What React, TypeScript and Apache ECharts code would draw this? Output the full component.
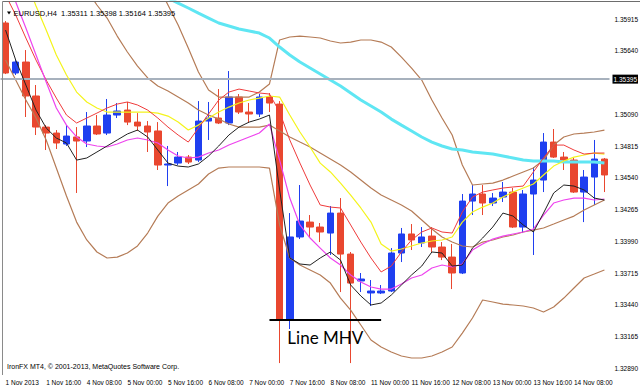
import React, { useEffect, useRef } from 'react';
import * as echarts from 'echarts';

// ---- categories (H4 bars) ----
const days = ['1 Nov', '4 Nov', '5 Nov', '6 Nov', '7 Nov', '8 Nov', '11 Nov', '12 Nov', '13 Nov', '14 Nov'];
const hours = ['00:00', '04:00', '08:00', '12:00', '16:00', '20:00'];
const categories = days.flatMap((d) => hours.map((h) => `${d} ${h}`));
const firstLabel = '1 Nov 2013';

// ---- price scale ticks ----
const yTicks = [1.3289, 1.33165, 1.3344, 1.33715, 1.3399, 1.34265, 1.3454, 1.34815, 1.3509, 1.3564, 1.35915];
const yMin = 1.32824;
const yMax = 1.36063;

// ---- candles ----
const opens = [1.35881,1.35448,1.35543,1.35249,1.3498,1.34928,1.34833,1.34894,1.34859,1.34989,
1.34928,1.35084,1.35127,1.35023,1.34989,1.34946,1.34651,1.34668,1.3472,1.34694,
1.35032,1.35058,1.35015,1.3524,1.3511,1.35093,1.3524,1.35179,1.33309,1.34028,
1.34157,1.34114,1.34062,1.34235,1.3388,1.33647,1.33543,1.33543,1.3356,1.33889,
1.34054,1.33976,1.34036,1.33941,1.33854,1.33716,1.34339,1.344,1.34322,1.34374,
1.34417,1.34114,1.344,1.34521,1.3485,1.3472,1.34694,1.34417,1.34547,1.34703];
const closes = [1.35448,1.35543,1.35249,1.3498,1.34928,1.34842,1.34902,1.34859,1.34989,1.3492,
1.35084,1.35119,1.35023,1.34989,1.34937,1.34651,1.3466,1.3472,1.34677,1.35032,
1.35058,1.35015,1.3524,1.3511,1.35093,1.3524,1.35188,1.33309,1.34028,1.34166,
1.34114,1.34071,1.34235,1.3388,1.33629,1.33664,1.3356,1.3356,1.33889,1.34054,
1.34002,1.34028,1.33941,1.33854,1.33716,1.34339,1.344,1.34322,1.34365,1.34417,
1.34114,1.344,1.34521,1.3485,1.3472,1.34694,1.34417,1.34547,1.34703,1.34565];
const lows = [1.35439,1.35431,1.35067,1.34911,1.34781,1.3479,1.34816,1.34409,1.34807,1.34911,
1.34911,1.35058,1.34997,1.34946,1.34764,1.34608,1.34469,1.34651,1.3466,1.34677,
1.34868,1.35006,1.34997,1.35093,1.35015,1.35067,1.3511,1.32936,1.33231,1.3401,
1.34028,1.33984,1.33872,1.33551,1.32936,1.33551,1.3343,1.33534,1.33551,1.33811,
1.33915,1.33941,1.33898,1.33828,1.33577,1.33707,1.34218,1.34218,1.34296,1.34331,
1.34106,1.34062,1.33872,1.34417,1.34712,1.34608,1.34409,1.34157,1.34305,1.34417];
const highs = [1.35898,1.3556,1.35647,1.35344,1.34997,1.34954,1.34997,1.3498,1.3511,1.35084,
1.35223,1.35188,1.35197,1.35101,1.35032,1.35023,1.34816,1.34764,1.34738,1.35205,
1.35197,1.35309,1.35465,1.35266,1.35188,1.35266,1.35275,1.35205,1.34235,1.34478,
1.34218,1.34149,1.34296,1.34365,1.33898,1.33716,1.33655,1.33612,1.33932,1.34106,
1.3414,1.34114,1.34114,1.33984,1.33967,1.344,1.34478,1.34478,1.34409,1.34504,
1.34452,1.34435,1.34634,1.34928,1.34963,1.34764,1.34712,1.34608,1.34868,1.34712];

// ---- indicators ----
const maBlack = [1.3582,1.3556,1.35344,1.35127,1.34972,1.34885,1.34842,1.34694,1.34712,1.34764,
1.34816,1.34868,1.3492,1.34954,1.34894,1.34781,1.34668,1.34642,1.34634,1.3466,
1.34729,1.34816,1.34911,1.3498,1.35023,1.35049,1.35084,1.34435,1.33846,1.33794,
1.33785,1.33846,1.33898,1.33828,1.33612,1.33517,1.33439,1.33456,1.33525,1.33612,
1.33699,1.33776,1.33898,1.33889,1.33776,1.33785,1.33932,1.34019,1.34114,1.34235,
1.34209,1.34132,1.34071,1.34235,1.34409,1.34478,1.34469,1.34435,1.34365,1.34348];
const maMagenta = [1.36253,1.36063,1.35838,1.35604,1.3537,1.35145,1.34997,1.34894,1.34833,1.34816,
1.34807,1.34833,1.34868,1.34885,1.34868,1.34842,1.34781,1.34729,1.34712,1.3472,
1.34755,1.34781,1.34824,1.34859,1.34894,1.34928,1.35006,1.34694,1.34365,1.34132,
1.34019,1.33932,1.33846,1.33785,1.33699,1.33638,1.33595,1.33577,1.33577,1.33621,
1.33673,1.33699,1.33759,1.33785,1.33768,1.33794,1.33915,1.33967,1.3401,1.34036,
1.34054,1.34071,1.34097,1.34218,1.34322,1.34348,1.34365,1.34365,1.34348,1.34357];
const maRed = [1.36123,1.3595,1.35751,1.3556,1.35387,1.35231,1.35084,1.35015,1.35058,1.35101,
1.35145,1.35179,1.35197,1.35171,1.35127,1.35058,1.3498,1.34911,1.3485,1.34972,
1.35093,1.35214,1.35283,1.35309,1.35292,1.35275,1.35266,1.3511,1.34868,1.34668,
1.34478,1.34305,1.34287,1.34279,1.34132,1.33984,1.33846,1.33725,1.33776,1.33898,
1.34002,1.34071,1.34106,1.34071,1.34062,1.34244,1.34374,1.34417,1.34435,1.34452,
1.34461,1.34469,1.34591,1.34712,1.34824,1.34824,1.34781,1.34746,1.34755,1.34755];
const maYellow = [1.36686,1.3647,1.36253,1.36028,1.3582,1.35604,1.35431,1.35283,1.35197,1.35145,
1.3511,1.3511,1.3511,1.3511,1.3511,1.35101,1.35075,1.35023,1.34954,1.34997,
1.35058,1.3511,1.35153,1.35188,1.35214,1.35231,1.35249,1.3524,1.35084,1.34937,
1.34807,1.34668,1.34591,1.34495,1.34391,1.34279,1.34157,1.33967,1.33906,1.33924,
1.3395,1.33976,1.33993,1.34002,1.34028,1.34157,1.34244,1.34287,1.34322,1.34374,
1.34417,1.34452,1.34487,1.34565,1.34642,1.34686,1.3472,1.34738,1.34755,1.34746];
const maCyan = [null,null,null,null,null,null,null,null,null,null,
null,null,null,null,null,null,1.36097,1.36054,1.36011,1.35967,
1.35924,1.35881,1.35855,1.35829,1.35812,1.35794,1.35751,1.35673,1.35604,1.35543,
1.35491,1.35439,1.35387,1.35335,1.35275,1.35214,1.35162,1.3511,1.35049,1.34997,
1.34946,1.34894,1.3485,1.34816,1.3479,1.34781,1.34764,1.34755,1.34746,1.34729,
1.34712,1.34694,1.34686,1.34686,1.34686,1.34677,1.34677,1.34677,1.34677,1.34668];
const bbUpper = [null,null,null,null,null,null,null,null,null,null,
null,null,null,null,null,1.3621,1.36037,1.35864,1.35664,1.35457,
1.35301,1.3524,1.3524,1.3524,1.3524,1.35283,1.35353,1.35734,1.3576,1.35768,
1.3576,1.35751,1.35725,1.35708,1.35716,1.35734,1.35734,1.35716,1.35673,1.35586,
1.35491,1.35387,1.35214,1.35058,1.34911,1.34651,1.34478,1.34487,1.34495,1.34521,
1.34556,1.34591,1.34625,1.34694,1.34824,1.34894,1.3492,1.34928,1.34937,1.34954];
const bbMiddle = [null,null,null,null,null,null,null,null,1.36167,1.36037,
1.35924,1.35768,1.3563,1.35508,1.35405,1.35335,1.35292,1.3524,1.35188,1.35127,
1.35084,1.35049,1.35006,1.3498,1.3498,1.3498,1.34997,1.34946,1.34894,1.3485,
1.34807,1.34755,1.34703,1.34651,1.34591,1.34521,1.34452,1.34391,1.34348,1.34305,
1.34253,1.34175,1.34097,1.34028,1.33984,1.3395,1.33941,1.33984,1.34002,1.34028,
1.34045,1.34071,1.34088,1.34106,1.3414,1.34175,1.34209,1.34261,1.34305,1.34348];
const bbLower = [1.3556,1.35387,1.35214,1.35058,1.34868,1.34625,1.34383,1.34157,1.34002,1.33898,
1.33846,1.33854,1.33889,1.3395,1.34062,1.34209,1.34322,1.34383,1.34435,1.34487,
1.34573,1.34625,1.34634,1.34634,1.34634,1.34634,1.34625,1.34132,1.33846,1.33785,
1.33742,1.33699,1.33629,1.33499,1.33395,1.33266,1.33136,1.33075,1.33032,1.32997,
1.3298,1.3298,1.32997,1.33032,1.33075,1.33196,1.33326,1.33482,1.33465,1.33447,
1.33439,1.3343,1.33413,1.33378,1.33421,1.33499,1.33586,1.33673,1.33707,1.33742];

// ---- annotations ----
const bidPrice = 1.35395;
const mhvPrice = 1.33309;
const mhvFrom = 26;
const mhvTo = 37;
const mhvText = 'Line MHV';
const headerText = 'EURUSD,H4  1.35311 1.35398 1.35164 1.35395';
const footerText = 'IronFX MT4, \u00a9 2001-2013, MetaQuotes Software Corp.';

const FONT = 'Liberation Sans Narrow, Liberation Sans, Arial, sans-serif';
const AXISFONT = 'Liberation Sans';
const BLUE = '#1f3ff0';
const RED = '#e9472f';
const BROWN = '#b57c57';

function lineSeries(data: (number | null)[], color: string, width: number, z: number, extra: object = {}) {
  return {
    type: 'line',
    data,
    symbol: 'none',
    silent: true,
    connectNulls: false,
    z,
    lineStyle: { color, width },
    emphasis: { disabled: true },
    ...extra,
  };
}

export default function App() {
  const ref = useRef<HTMLDivElement>(null);
  useEffect(() => {
    const chart = echarts.init(ref.current!, null, { renderer: 'svg' });
    const candles = opens.map((o, i) => [o, closes[i], lows[i], highs[i]]);
    const mhvLabel = {
      show: true,
      position: 'insideMiddleBottom',
      formatter: mhvText,
      color: '#000',
      fontSize: 17,
      fontFamily: 'Lato',
      distance: 9,
    };
    const mhvStyle = { color: '#000', width: 2, type: 'solid' };
    const bidMarkLine = {
      silent: true,
      symbol: ['none', 'none'],
      precision: 5,
      animation: false,
      data: [
        {
          yAxis: bidPrice,
          lineStyle: { color: '#a7b1bd', width: 2, type: 'solid' },
          label: {
            show: true,
            position: 'end',
            formatter: bidPrice.toFixed(5),
            backgroundColor: '#000',
            color: '#fff',
            padding: [1, 1, 1, 1],
            fontSize: 6.5,
            fontFamily: AXISFONT,
            distance: 3,
          },
        },
      ],
    };
    chart.setOption({
      animation: false,
      backgroundColor: '#ffffff',
      grid: { left: 0.5, right: 30.5, top: 2, bottom: 14, containLabel: false, outerBoundsMode: 'none' },
      xAxis: {
        type: 'category',
        data: categories,
        boundaryGap: true,
        axisLine: { show: false },
        axisTick: { show: false },
        splitLine: { show: false },
        axisLabel: {
          interval: 3,
          align: 'left',
          margin: 3,
          fontSize: 6.5,
          color: '#000',
          fontFamily: AXISFONT,
          hideOverlap: false,
          formatter: (v: string, i: number) => (i === 0 ? firstLabel : v),
        },
      },
      yAxis: {
        type: 'value',
        position: 'right',
        min: yMin,
        max: yMax,
        scale: true,
        axisLine: { show: false },
        axisTick: { show: false },
        splitLine: { show: false },
        axisLabel: {
          customValues: yTicks,
          formatter: (v: number) => v.toFixed(5),
          margin: 5,
          fontSize: 6.5,
          color: '#000',
          fontFamily: AXISFONT,
        },
      },
      series: [
        {
          type: 'candlestick',
          data: candles,
          barWidth: 7,
          z: 2,
          silent: true,
          itemStyle: { color: BLUE, color0: RED, borderColor: BLUE, borderColor0: RED, borderWidth: 1 },
          markLine: {
            silent: true,
            symbol: ['none', 'none'],
            precision: 5,
            animation: false,
            data: [
              [
                { coord: [mhvFrom, mhvPrice], lineStyle: mhvStyle, label: mhvLabel },
                { coord: [mhvTo, mhvPrice], lineStyle: mhvStyle, label: mhvLabel },
              ],
            ],
          },
        },
        lineSeries(bbUpper, BROWN, 1.2, 3, { markLine: bidMarkLine }),
        lineSeries(bbMiddle, BROWN, 1.2, 3),
        lineSeries(bbLower, BROWN, 1.2, 3),
        lineSeries(maCyan, '#5fe6f3', 3, 4),
        lineSeries(maYellow, '#f4f41c', 1.2, 5),
        lineSeries(maRed, '#ef3b3b', 1, 5),
        lineSeries(maMagenta, '#ee44ee', 1.2, 5),
        lineSeries(maBlack, '#222222', 1, 6),
      ],
      graphic: [
        { type: 'line', z: 100, shape: { x1: 2.5, y1: 1.5, x2: 640, y2: 1.5 }, style: { stroke: '#6d6d6d', lineWidth: 1 } },
        { type: 'line', z: 100, shape: { x1: 2.5, y1: 1.5, x2: 2.5, y2: 375 }, style: { stroke: '#8a8a8a', lineWidth: 1 } },
        { type: 'polygon', z: 100, shape: { points: [[7, 11.5], [11, 11.5], [9, 14.5]] }, style: { fill: '#000' } },
        {
          type: 'text', z: 100, x: 13.5, y: 13,
          style: { text: headerText, fill: '#000', font: `7.5px ${FONT}`, align: 'left', verticalAlign: 'middle' },
        },
        {
          type: 'text', z: 100, x: 7, y: 366,
          style: { text: footerText, fill: '#000', font: `7px ${FONT}`, align: 'left', verticalAlign: 'middle' },
        },
      ],
    });
    return () => chart.dispose();
  }, []);
  return <div ref={ref} style={{ position: 'absolute', left: 0, top: 0, width: 640, height: 390, background: '#fff' }} />;
}
